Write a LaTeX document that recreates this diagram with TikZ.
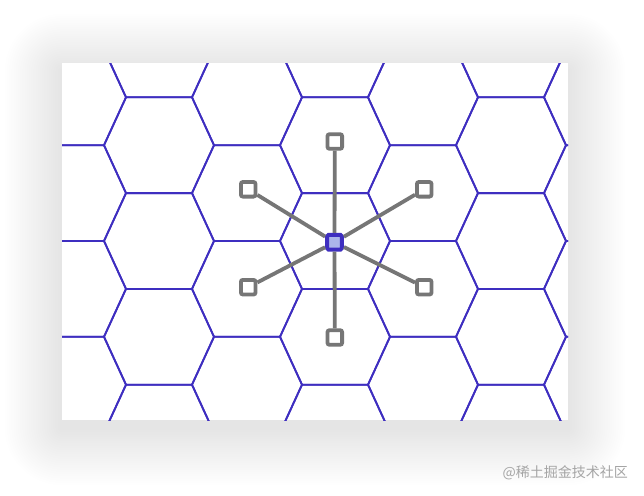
\documentclass[tikz,border=0pt]{standalone}
\usepackage{fontspec}
\newfontfamily\cjk{Noto Sans CJK SC}
\definecolor{hexblue}{RGB}{62,46,192}
\definecolor{sqfill}{RGB}{172,182,234}
\definecolor{sqgrey}{RGB}{118,118,118}
\definecolor{shadowc}{RGB}{90,94,120}
\definecolor{wmgrey}{RGB}{165,165,165}
\tikzset{
  hexline/.style={draw=hexblue, line width=1.8pt, line join=miter},
  outsq/.style={draw=sqgrey, fill=white, line width=3.8pt, rectangle, rounded corners=2pt, minimum size=14.6pt, inner sep=0pt},
  midsq/.style={draw=hexblue, fill=sqfill, line width=4pt, rectangle, rounded corners=1.5pt, minimum size=14.8pt, inner sep=0pt},
  conn/.style={draw=sqgrey, line width=3.8pt},
  watermark/.style={text=wmgrey, font=\cjk\fontsize{14pt}{16pt}\selectfont, anchor=east, inner sep=0pt}
}
\begin{document}
\begin{tikzpicture}[x=1pt,y=-1pt]
\useasboundingbox (0,0) rectangle (644,495);
\fill[white] (0,0) rectangle (644,495);
% soft shadow
\foreach \i in {1,...,26}{
  \pgfmathsetmacro\d{\i*2.2}
  \fill[shadowc, opacity=0.0042, rounded corners=\d pt] (62-\d,63-\d+8) rectangle (568+\d,420+\d+8);
}
% card
\fill[white] (62,63) rectangle (568,420);
% hex grid
\begin{scope}
\clip (62,63) rectangle (568,420);
\foreach \k in {-3,...,3}{
  \foreach \j in {-3,...,3}{
    \pgfmathsetmacro\cx{335+88*\k}
    \pgfmathsetmacro\cy{241+95.8*\j-47.9*mod(abs(\k),2)}
    \draw[hexline] (\cx-55,\cy) -- (\cx-33,\cy-47.9) -- (\cx+33,\cy-47.9) -- (\cx+55,\cy) -- (\cx+33,\cy+47.9) -- (\cx-33,\cy+47.9) -- cycle;
  }
}
\end{scope}
% squares
\node[midsq] (c) at (334.5,242.3) {};
\node[outsq] (t) at (334.8,141.5) {};
\node[outsq] (b) at (334.8,337.5) {};
\node[outsq] (ul) at (248.2,189.3) {};
\node[outsq] (ur) at (424.2,189.3) {};
\node[outsq] (ll) at (248.2,287.2) {};
\node[outsq] (lr) at (424.2,287.2) {};
\draw[conn] (c) -- (t);
\draw[conn] (c) -- (b);
\draw[conn] (c) -- (ul);
\draw[conn] (c) -- (ur);
\draw[conn] (c) -- (ll);
\draw[conn] (c) -- (lr);
% watermark
\node[watermark] (wm) at (628,473) {@稀土掘金技术社区};
\end{tikzpicture}
\end{document}
